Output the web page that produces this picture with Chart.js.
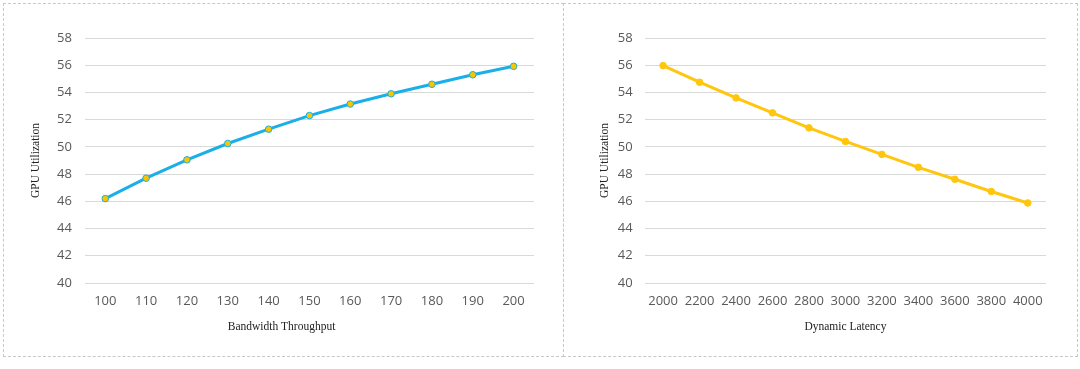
<!DOCTYPE html>
<html>
<head>
<meta charset="utf-8">
<script src="https://cdn.jsdelivr.net/npm/chart.js@4.4.1/dist/chart.umd.min.js"></script>
<style>
  html, body { margin: 0; padding: 0; background: #fff; }
  .panel { position: absolute; top: 3px; height: 354px; border: 1px dashed #c8c8c8; box-sizing: border-box; }
  .inner { position: absolute; left: 0; top: 0; right: 0; bottom: 0; }
  #p1 { left: 3px; width: 561px; }
  #p2 { left: 563px; width: 515px; }
</style>
</head>
<body>
<div class="panel" id="p1"><div class="inner"><canvas id="chart-bw"></canvas></div></div>
<div class="panel" id="p2"><div class="inner"><canvas id="chart-lat"></canvas></div></div>
<script>
(function () {
  'use strict';

  const bandwidthLabels = ['100', '110', '120', '130', '140', '150', '160', '170', '180', '190', '200'];
  const bandwidthGpu    = [46.2, 47.7, 49.05, 50.25, 51.3, 52.3, 53.15, 53.9, 54.6, 55.3, 55.92];

  const latencyLabels = ['2000', '2200', '2400', '2600', '2800', '3000', '3200', '3400', '3600', '3800', '4000'];
  const latencyGpu    = [55.97, 54.75, 53.6, 52.5, 51.4, 50.4, 49.45, 48.5, 47.62, 46.72, 45.88];

  const yTicks = { min: 40, max: 58, step: 2 };

  const tickFont  = { family: '"Open Sans", "Noto Sans", sans-serif', size: 13 };
  const titleFont = { family: '"Liberation Serif", "DejaVu Serif", serif', size: 11.5, weight: 'normal' };

  function makeChart(id, labels, values, o) {
    return new Chart(document.getElementById(id), {
      type: 'line',
      data: {
        labels,
        datasets: [{
          data: values,
          borderColor: o.line,
          borderWidth: 3,
          tension: 0,
          pointRadius: 3.3,
          pointBorderWidth: 1,
          pointBackgroundColor: o.dot,
          pointBorderColor: o.dotBorder,
        }],
      },
      options: {
        responsive: true,
        maintainAspectRatio: false,
        animation: false,
        layout: { padding: { left: o.padLeft, right: o.padRight, top: 34, bottom: 22.4 } },
        plugins: {
          legend: { display: false },
          tooltip: { enabled: false },
          title: {
            display: true,
            text: o.xTitle,
            position: 'bottom',
            fullSize: o.fullSize,
            color: '#222',
            font: titleFont,
            padding: { top: 1.2, bottom: 0 },
          },
        },
        scales: {
          x: {
            offset: true,
            grid: { display: false, drawTicks: false },
            border: { display: false },
            ticks: { color: '#595959', font: tickFont, padding: 10, autoSkip: false, maxRotation: 0 },
          },
          y: {
            min: yTicks.min,
            max: yTicks.max,
            grid: { color: '#d9d9d9', lineWidth: 1, drawTicks: false },
            border: { display: false },
            ticks: { stepSize: yTicks.step, color: '#595959', font: tickFont, padding: o.tickPad },
            title: {
              display: true,
              text: 'GPU Utilization',
              color: '#222',
              font: titleFont,
              padding: { top: 0, bottom: o.titleBottom },
            },
          },
        },
      },
    });
  }

  makeChart('chart-bw', bandwidthLabels, bandwidthGpu, {
    xTitle: 'Bandwidth Throughput',
    line: '#1aafe8', dot: '#f7c600', dotBorder: '#1aafe8',
    padLeft: 25.1, padRight: 29, tickPad: 13, titleBottom: 1.1, fullSize: true,
  });

  makeChart('chart-lat', latencyLabels, latencyGpu, {
    xTitle: 'Dynamic Latency',
    line: '#ffc60d', dot: '#ffc60d', dotBorder: '#ffc60d',
    padLeft: 33.6, padRight: 31, tickPad: 12.3, titleBottom: -6, fullSize: false,
  });
})();
</script>
</body>
</html>
